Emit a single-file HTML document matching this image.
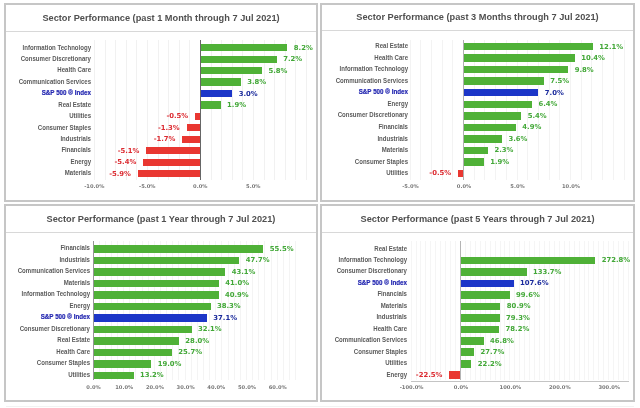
<!DOCTYPE html>
<html><head><meta charset="utf-8"><title>Sector Performance</title>
<style>
html,body{margin:0;padding:0;background:#fff;}
body{width:640px;height:408px;position:relative;overflow:hidden;font-family:"Liberation Sans",sans-serif;}
.p{position:absolute;border:2px solid #c6c6c6;box-sizing:border-box;background:#fff;}
.sep{position:absolute;height:1px;background:#d8d8d8;}
.t,.c,.v,.a,.b{filter:blur(0.35px);}
.t{position:absolute;font-weight:bold;font-size:9.6px;color:#505050;transform:scaleX(0.961);text-align:center;white-space:nowrap;line-height:12px;height:12px;}
.g{position:absolute;width:1px;background:#f3f3f3;}
.z{position:absolute;width:1px;background:#6e6e6e;}
.b{position:absolute;height:7.3px;}
.c{position:absolute;transform:scaleX(0.905);transform-origin:100% 50%;font-size:6.7px;font-weight:bold;color:#5a5a5a;text-align:right;white-space:nowrap;line-height:8px;height:8px;width:120px;}
.c.sp{color:#2226b0;transform:scaleX(0.935);-webkit-text-stroke:0.2px #2226b0;}
.v{position:absolute;font-family:"DejaVu Sans","Liberation Sans",sans-serif;font-weight:bold;font-size:6.85px;white-space:nowrap;line-height:8px;height:8px;}
.a{position:absolute;font-family:"DejaVu Sans","Liberation Sans",sans-serif;font-weight:bold;font-size:5.2px;color:#787878;white-space:nowrap;line-height:6px;height:6px;width:40px;text-align:center;}
</style></head><body>

<div class="p" style="left:4px;top:3px;width:314px;height:199px"></div>
<div class="sep" style="left:6px;top:30.5px;width:310px"></div>
<div class="t" style="left:4px;top:12px;width:314px">Sector Performance (past 1 Month through 7 Jul 2021)</div>
<div class="g" style="background:#f1f1f1;left:94.00px;top:40px;height:139.5px"></div>
<div class="g" style="background:#f1f1f1;left:104.60px;top:40px;height:139.5px"></div>
<div class="g" style="background:#f1f1f1;left:115.20px;top:40px;height:139.5px"></div>
<div class="g" style="background:#f1f1f1;left:125.80px;top:40px;height:139.5px"></div>
<div class="g" style="background:#f1f1f1;left:136.40px;top:40px;height:139.5px"></div>
<div class="g" style="background:#f1f1f1;left:147.00px;top:40px;height:139.5px"></div>
<div class="g" style="background:#f1f1f1;left:157.60px;top:40px;height:139.5px"></div>
<div class="g" style="background:#f1f1f1;left:168.20px;top:40px;height:139.5px"></div>
<div class="g" style="background:#f1f1f1;left:178.80px;top:40px;height:139.5px"></div>
<div class="g" style="background:#f1f1f1;left:189.40px;top:40px;height:139.5px"></div>
<div class="g" style="background:#f1f1f1;left:210.60px;top:40px;height:139.5px"></div>
<div class="g" style="background:#f1f1f1;left:221.20px;top:40px;height:139.5px"></div>
<div class="g" style="background:#f1f1f1;left:231.80px;top:40px;height:139.5px"></div>
<div class="g" style="background:#f1f1f1;left:242.40px;top:40px;height:139.5px"></div>
<div class="g" style="background:#f1f1f1;left:253.00px;top:40px;height:139.5px"></div>
<div class="g" style="background:#f1f1f1;left:263.60px;top:40px;height:139.5px"></div>
<div class="g" style="background:#f1f1f1;left:274.20px;top:40px;height:139.5px"></div>
<div class="g" style="background:#f1f1f1;left:284.80px;top:40px;height:139.5px"></div>
<div class="g" style="background:#f1f1f1;left:295.40px;top:40px;height:139.5px"></div>
<div class="g" style="background:#f1f1f1;left:306.00px;top:40px;height:139.5px"></div>
<div class="c" style="left:-29.00px;top:43.50px">Information Technology</div>
<div class="b" style="left:200.50px;top:44.20px;height:7.2px;width:86.92px;background:#4fb137"></div>
<div class="v" style="left:293.82px;top:43.80px;color:#43a838">8.2%</div>
<div class="c" style="left:-29.00px;top:54.93px">Consumer Discretionary</div>
<div class="b" style="left:200.50px;top:55.63px;height:7.2px;width:76.32px;background:#4fb137"></div>
<div class="v" style="left:283.22px;top:55.23px;color:#43a838">7.2%</div>
<div class="c" style="left:-29.00px;top:66.36px">Health Care</div>
<div class="b" style="left:200.50px;top:67.06px;height:7.2px;width:61.48px;background:#4fb137"></div>
<div class="v" style="left:268.38px;top:66.66px;color:#43a838">5.8%</div>
<div class="c" style="left:-29.00px;top:77.79px">Communication Services</div>
<div class="b" style="left:200.50px;top:78.49px;height:7.2px;width:40.28px;background:#4fb137"></div>
<div class="v" style="left:247.18px;top:78.09px;color:#43a838">3.8%</div>
<div class="c sp" style="left:-29.00px;top:89.22px">S&amp;P 500 ® Index</div>
<div class="b" style="left:200.50px;top:89.92px;height:7.2px;width:31.80px;background:#1c36c8"></div>
<div class="v" style="left:238.70px;top:89.52px;color:#1a2a9c">3.0%</div>
<div class="c" style="left:-29.00px;top:100.65px">Real Estate</div>
<div class="b" style="left:200.50px;top:101.35px;height:7.2px;width:20.14px;background:#4fb137"></div>
<div class="v" style="left:227.04px;top:100.95px;color:#43a838">1.9%</div>
<div class="c" style="left:-29.00px;top:112.08px">Utilities</div>
<div class="b" style="left:195.20px;top:112.78px;height:7.2px;width:5.30px;background:#e93731"></div>
<div class="v" style="right:451.80px;top:112.38px;color:#dc2c32">-0.5%</div>
<div class="c" style="left:-29.00px;top:123.51px">Consumer Staples</div>
<div class="b" style="left:186.72px;top:124.21px;height:7.2px;width:13.78px;background:#e93731"></div>
<div class="v" style="right:460.28px;top:123.81px;color:#dc2c32">-1.3%</div>
<div class="c" style="left:-29.00px;top:134.94px">Industrials</div>
<div class="b" style="left:182.48px;top:135.64px;height:7.2px;width:18.02px;background:#e93731"></div>
<div class="v" style="right:464.52px;top:135.24px;color:#dc2c32">-1.7%</div>
<div class="c" style="left:-29.00px;top:146.37px">Financials</div>
<div class="b" style="left:146.44px;top:147.07px;height:7.2px;width:54.06px;background:#e93731"></div>
<div class="v" style="right:500.56px;top:146.67px;color:#dc2c32">-5.1%</div>
<div class="c" style="left:-29.00px;top:157.80px">Energy</div>
<div class="b" style="left:143.26px;top:158.50px;height:7.2px;width:57.24px;background:#e93731"></div>
<div class="v" style="right:503.74px;top:158.10px;color:#dc2c32">-5.4%</div>
<div class="c" style="left:-29.00px;top:169.23px">Materials</div>
<div class="b" style="left:137.96px;top:169.93px;height:7.2px;width:62.54px;background:#e93731"></div>
<div class="v" style="right:509.04px;top:169.53px;color:#dc2c32">-5.9%</div>
<div class="z" style="background:#666;left:200.00px;top:40px;height:139.5px"></div>
<div class="a" style="left:74.30px;top:182.50px">-10.0%</div>
<div class="a" style="left:127.30px;top:182.50px">-5.0%</div>
<div class="a" style="left:180.30px;top:182.50px">0.0%</div>
<div class="a" style="left:233.30px;top:182.50px">5.0%</div>
<div class="p" style="left:320px;top:3px;width:315px;height:199px"></div>
<div class="sep" style="left:322px;top:30.0px;width:311px"></div>
<div class="t" style="left:320.3px;top:11.100000000000001px;width:315px">Sector Performance (past 3 Months through 7 Jul 2021)</div>
<div class="g" style="background:#f3f3f3;left:409.50px;top:40px;height:139.5px"></div>
<div class="g" style="background:#f3f3f3;left:420.20px;top:40px;height:139.5px"></div>
<div class="g" style="background:#f3f3f3;left:430.90px;top:40px;height:139.5px"></div>
<div class="g" style="background:#f3f3f3;left:441.60px;top:40px;height:139.5px"></div>
<div class="g" style="background:#f3f3f3;left:452.30px;top:40px;height:139.5px"></div>
<div class="g" style="background:#f3f3f3;left:473.70px;top:40px;height:139.5px"></div>
<div class="g" style="background:#f3f3f3;left:484.40px;top:40px;height:139.5px"></div>
<div class="g" style="background:#f3f3f3;left:495.10px;top:40px;height:139.5px"></div>
<div class="g" style="background:#f3f3f3;left:505.80px;top:40px;height:139.5px"></div>
<div class="g" style="background:#f3f3f3;left:516.50px;top:40px;height:139.5px"></div>
<div class="g" style="background:#f3f3f3;left:527.20px;top:40px;height:139.5px"></div>
<div class="g" style="background:#f3f3f3;left:537.90px;top:40px;height:139.5px"></div>
<div class="g" style="background:#f3f3f3;left:548.60px;top:40px;height:139.5px"></div>
<div class="g" style="background:#f3f3f3;left:559.30px;top:40px;height:139.5px"></div>
<div class="g" style="background:#f3f3f3;left:570.00px;top:40px;height:139.5px"></div>
<div class="g" style="background:#f3f3f3;left:580.70px;top:40px;height:139.5px"></div>
<div class="g" style="background:#f3f3f3;left:591.40px;top:40px;height:139.5px"></div>
<div class="g" style="background:#f3f3f3;left:602.10px;top:40px;height:139.5px"></div>
<div class="g" style="background:#f3f3f3;left:612.80px;top:40px;height:139.5px"></div>
<div class="g" style="background:#f3f3f3;left:623.50px;top:40px;height:139.5px"></div>
<div class="c" style="left:287.50px;top:42.30px">Real Estate</div>
<div class="b" style="left:463.50px;top:42.85px;height:7.5px;width:129.47px;background:#4fb137"></div>
<div class="v" style="left:599.37px;top:42.60px;color:#43a838">12.1%</div>
<div class="c" style="left:287.50px;top:53.83px">Health Care</div>
<div class="b" style="left:463.50px;top:54.38px;height:7.5px;width:111.28px;background:#4fb137"></div>
<div class="v" style="left:581.18px;top:54.13px;color:#43a838">10.4%</div>
<div class="c" style="left:287.50px;top:65.36px">Information Technology</div>
<div class="b" style="left:463.50px;top:65.91px;height:7.5px;width:104.86px;background:#4fb137"></div>
<div class="v" style="left:574.76px;top:65.66px;color:#43a838">9.8%</div>
<div class="c" style="left:287.50px;top:76.89px">Communication Services</div>
<div class="b" style="left:463.50px;top:77.44px;height:7.5px;width:80.25px;background:#4fb137"></div>
<div class="v" style="left:550.15px;top:77.19px;color:#43a838">7.5%</div>
<div class="c sp" style="left:287.50px;top:88.42px">S&amp;P 500 ® Index</div>
<div class="b" style="left:463.50px;top:88.97px;height:7.5px;width:74.90px;background:#1c36c8"></div>
<div class="v" style="left:544.80px;top:88.72px;color:#1a2a9c">7.0%</div>
<div class="c" style="left:287.50px;top:99.95px">Energy</div>
<div class="b" style="left:463.50px;top:100.50px;height:7.5px;width:68.48px;background:#4fb137"></div>
<div class="v" style="left:538.38px;top:100.25px;color:#43a838">6.4%</div>
<div class="c" style="left:287.50px;top:111.48px">Consumer Discretionary</div>
<div class="b" style="left:463.50px;top:112.03px;height:7.5px;width:57.78px;background:#4fb137"></div>
<div class="v" style="left:527.68px;top:111.78px;color:#43a838">5.4%</div>
<div class="c" style="left:287.50px;top:123.01px">Financials</div>
<div class="b" style="left:463.50px;top:123.56px;height:7.5px;width:52.43px;background:#4fb137"></div>
<div class="v" style="left:522.33px;top:123.31px;color:#43a838">4.9%</div>
<div class="c" style="left:287.50px;top:134.54px">Industrials</div>
<div class="b" style="left:463.50px;top:135.09px;height:7.5px;width:38.52px;background:#4fb137"></div>
<div class="v" style="left:508.42px;top:134.84px;color:#43a838">3.6%</div>
<div class="c" style="left:287.50px;top:146.07px">Materials</div>
<div class="b" style="left:463.50px;top:146.62px;height:7.5px;width:24.61px;background:#4fb137"></div>
<div class="v" style="left:494.51px;top:146.37px;color:#43a838">2.3%</div>
<div class="c" style="left:287.50px;top:157.60px">Consumer Staples</div>
<div class="b" style="left:463.50px;top:158.15px;height:7.5px;width:20.33px;background:#4fb137"></div>
<div class="v" style="left:490.23px;top:157.90px;color:#43a838">1.9%</div>
<div class="c" style="left:287.50px;top:169.13px">Utilities</div>
<div class="b" style="left:458.15px;top:169.68px;height:7.5px;width:5.35px;background:#e93731"></div>
<div class="v" style="right:188.85px;top:169.43px;color:#dc2c32">-0.5%</div>
<div class="z" style="background:#b0b0b0;left:463.00px;top:40px;height:139.5px"></div>
<div class="a" style="left:390.50px;top:182.50px">-5.0%</div>
<div class="a" style="left:444.00px;top:182.50px">0.0%</div>
<div class="a" style="left:497.50px;top:182.50px">5.0%</div>
<div class="a" style="left:551.00px;top:182.50px">10.0%</div>
<div class="p" style="left:4px;top:204px;width:314px;height:198px"></div>
<div class="sep" style="left:6px;top:231.5px;width:310px"></div>
<div class="t" style="left:4px;top:213px;width:314px">Sector Performance (past 1 Year through 7 Jul 2021)</div>
<div class="g" style="background:#f4f4f4;left:98.64px;top:241px;height:139px"></div>
<div class="g" style="background:#f4f4f4;left:104.78px;top:241px;height:139px"></div>
<div class="g" style="background:#f4f4f4;left:110.92px;top:241px;height:139px"></div>
<div class="g" style="background:#f4f4f4;left:117.06px;top:241px;height:139px"></div>
<div class="g" style="background:#f4f4f4;left:123.20px;top:241px;height:139px"></div>
<div class="g" style="background:#f4f4f4;left:129.34px;top:241px;height:139px"></div>
<div class="g" style="background:#f4f4f4;left:135.48px;top:241px;height:139px"></div>
<div class="g" style="background:#f4f4f4;left:141.62px;top:241px;height:139px"></div>
<div class="g" style="background:#f4f4f4;left:147.76px;top:241px;height:139px"></div>
<div class="g" style="background:#f4f4f4;left:153.90px;top:241px;height:139px"></div>
<div class="g" style="background:#f4f4f4;left:160.04px;top:241px;height:139px"></div>
<div class="g" style="background:#f4f4f4;left:166.18px;top:241px;height:139px"></div>
<div class="g" style="background:#f4f4f4;left:172.32px;top:241px;height:139px"></div>
<div class="g" style="background:#f4f4f4;left:178.46px;top:241px;height:139px"></div>
<div class="g" style="background:#f4f4f4;left:184.60px;top:241px;height:139px"></div>
<div class="g" style="background:#f4f4f4;left:190.74px;top:241px;height:139px"></div>
<div class="g" style="background:#f4f4f4;left:196.88px;top:241px;height:139px"></div>
<div class="g" style="background:#f4f4f4;left:203.02px;top:241px;height:139px"></div>
<div class="g" style="background:#f4f4f4;left:209.16px;top:241px;height:139px"></div>
<div class="g" style="background:#f4f4f4;left:215.30px;top:241px;height:139px"></div>
<div class="g" style="background:#f4f4f4;left:221.44px;top:241px;height:139px"></div>
<div class="g" style="background:#f4f4f4;left:227.58px;top:241px;height:139px"></div>
<div class="g" style="background:#f4f4f4;left:233.72px;top:241px;height:139px"></div>
<div class="g" style="background:#f4f4f4;left:239.86px;top:241px;height:139px"></div>
<div class="g" style="background:#f4f4f4;left:246.00px;top:241px;height:139px"></div>
<div class="g" style="background:#f4f4f4;left:252.14px;top:241px;height:139px"></div>
<div class="g" style="background:#f4f4f4;left:258.28px;top:241px;height:139px"></div>
<div class="g" style="background:#f4f4f4;left:264.42px;top:241px;height:139px"></div>
<div class="g" style="background:#f4f4f4;left:270.56px;top:241px;height:139px"></div>
<div class="g" style="background:#f4f4f4;left:276.70px;top:241px;height:139px"></div>
<div class="g" style="background:#f4f4f4;left:282.84px;top:241px;height:139px"></div>
<div class="g" style="background:#f4f4f4;left:288.98px;top:241px;height:139px"></div>
<div class="g" style="background:#f4f4f4;left:295.12px;top:241px;height:139px"></div>
<div class="c" style="left:-29.90px;top:244.20px">Financials</div>
<div class="b" style="left:93.00px;top:245.10px;height:7.6px;width:170.38px;background:#4fb137"></div>
<div class="v" style="left:269.78px;top:244.50px;color:#43a838">55.5%</div>
<div class="c" style="left:-29.90px;top:255.70px">Industrials</div>
<div class="b" style="left:93.00px;top:256.60px;height:7.6px;width:146.44px;background:#4fb137"></div>
<div class="v" style="left:245.84px;top:256.00px;color:#43a838">47.7%</div>
<div class="c" style="left:-29.90px;top:267.20px">Communication Services</div>
<div class="b" style="left:93.00px;top:268.10px;height:7.6px;width:132.32px;background:#4fb137"></div>
<div class="v" style="left:231.72px;top:267.50px;color:#43a838">43.1%</div>
<div class="c" style="left:-29.90px;top:278.70px">Materials</div>
<div class="b" style="left:93.00px;top:279.60px;height:7.6px;width:125.87px;background:#4fb137"></div>
<div class="v" style="left:225.27px;top:279.00px;color:#43a838">41.0%</div>
<div class="c" style="left:-29.90px;top:290.20px">Information Technology</div>
<div class="b" style="left:93.00px;top:291.10px;height:7.6px;width:125.56px;background:#4fb137"></div>
<div class="v" style="left:224.96px;top:290.50px;color:#43a838">40.9%</div>
<div class="c" style="left:-29.90px;top:301.70px">Energy</div>
<div class="b" style="left:93.00px;top:302.60px;height:7.6px;width:117.58px;background:#4fb137"></div>
<div class="v" style="left:216.98px;top:302.00px;color:#43a838">38.3%</div>
<div class="c sp" style="left:-29.90px;top:313.20px">S&amp;P 500 ® Index</div>
<div class="b" style="left:93.00px;top:314.10px;height:7.6px;width:113.90px;background:#1c36c8"></div>
<div class="v" style="left:213.30px;top:313.50px;color:#1a2a9c">37.1%</div>
<div class="c" style="left:-29.90px;top:324.70px">Consumer Discretionary</div>
<div class="b" style="left:93.00px;top:325.60px;height:7.6px;width:98.55px;background:#4fb137"></div>
<div class="v" style="left:197.95px;top:325.00px;color:#43a838">32.1%</div>
<div class="c" style="left:-29.90px;top:336.20px">Real Estate</div>
<div class="b" style="left:93.00px;top:337.10px;height:7.6px;width:85.96px;background:#4fb137"></div>
<div class="v" style="left:185.36px;top:336.50px;color:#43a838">28.0%</div>
<div class="c" style="left:-29.90px;top:347.70px">Health Care</div>
<div class="b" style="left:93.00px;top:348.60px;height:7.6px;width:78.90px;background:#4fb137"></div>
<div class="v" style="left:178.30px;top:348.00px;color:#43a838">25.7%</div>
<div class="c" style="left:-29.90px;top:359.20px">Consumer Staples</div>
<div class="b" style="left:93.00px;top:360.10px;height:7.6px;width:58.33px;background:#4fb137"></div>
<div class="v" style="left:157.73px;top:359.50px;color:#43a838">19.0%</div>
<div class="c" style="left:-29.90px;top:370.70px">Utilities</div>
<div class="b" style="left:93.00px;top:371.60px;height:7.6px;width:40.52px;background:#4fb137"></div>
<div class="v" style="left:139.92px;top:371.00px;color:#43a838">13.2%</div>
<div class="z" style="background:#959595;left:92.50px;top:241px;height:139px"></div>
<div class="a" style="left:73.50px;top:384.20px">0.0%</div>
<div class="a" style="left:104.20px;top:384.20px">10.0%</div>
<div class="a" style="left:134.90px;top:384.20px">20.0%</div>
<div class="a" style="left:165.60px;top:384.20px">30.0%</div>
<div class="a" style="left:196.30px;top:384.20px">40.0%</div>
<div class="a" style="left:227.00px;top:384.20px">50.0%</div>
<div class="a" style="left:257.70px;top:384.20px">60.0%</div>
<div class="p" style="left:320px;top:204px;width:315px;height:198px"></div>
<div class="sep" style="left:322px;top:231.5px;width:311px"></div>
<div class="t" style="left:319.9px;top:213px;width:315px">Sector Performance (past 5 Years through 7 Jul 2021)</div>
<div class="g" style="background:#f5f5f5;left:410.60px;top:241px;height:139px"></div>
<div class="g" style="background:#f5f5f5;left:415.54px;top:241px;height:139px"></div>
<div class="g" style="background:#f5f5f5;left:420.48px;top:241px;height:139px"></div>
<div class="g" style="background:#f5f5f5;left:425.42px;top:241px;height:139px"></div>
<div class="g" style="background:#f5f5f5;left:430.36px;top:241px;height:139px"></div>
<div class="g" style="background:#f5f5f5;left:435.30px;top:241px;height:139px"></div>
<div class="g" style="background:#f5f5f5;left:440.24px;top:241px;height:139px"></div>
<div class="g" style="background:#f5f5f5;left:445.18px;top:241px;height:139px"></div>
<div class="g" style="background:#f5f5f5;left:450.12px;top:241px;height:139px"></div>
<div class="g" style="background:#f5f5f5;left:455.06px;top:241px;height:139px"></div>
<div class="g" style="background:#f5f5f5;left:464.94px;top:241px;height:139px"></div>
<div class="g" style="background:#f5f5f5;left:469.88px;top:241px;height:139px"></div>
<div class="g" style="background:#f5f5f5;left:474.82px;top:241px;height:139px"></div>
<div class="g" style="background:#f5f5f5;left:479.76px;top:241px;height:139px"></div>
<div class="g" style="background:#f5f5f5;left:484.70px;top:241px;height:139px"></div>
<div class="g" style="background:#f5f5f5;left:489.64px;top:241px;height:139px"></div>
<div class="g" style="background:#f5f5f5;left:494.58px;top:241px;height:139px"></div>
<div class="g" style="background:#f5f5f5;left:499.52px;top:241px;height:139px"></div>
<div class="g" style="background:#f5f5f5;left:504.46px;top:241px;height:139px"></div>
<div class="g" style="background:#f5f5f5;left:509.40px;top:241px;height:139px"></div>
<div class="g" style="background:#f5f5f5;left:514.34px;top:241px;height:139px"></div>
<div class="g" style="background:#f5f5f5;left:519.28px;top:241px;height:139px"></div>
<div class="g" style="background:#f5f5f5;left:524.22px;top:241px;height:139px"></div>
<div class="g" style="background:#f5f5f5;left:529.16px;top:241px;height:139px"></div>
<div class="g" style="background:#f5f5f5;left:534.10px;top:241px;height:139px"></div>
<div class="g" style="background:#f5f5f5;left:539.04px;top:241px;height:139px"></div>
<div class="g" style="background:#f5f5f5;left:543.98px;top:241px;height:139px"></div>
<div class="g" style="background:#f5f5f5;left:548.92px;top:241px;height:139px"></div>
<div class="g" style="background:#f5f5f5;left:553.86px;top:241px;height:139px"></div>
<div class="g" style="background:#f5f5f5;left:558.80px;top:241px;height:139px"></div>
<div class="g" style="background:#f5f5f5;left:563.74px;top:241px;height:139px"></div>
<div class="g" style="background:#f5f5f5;left:568.68px;top:241px;height:139px"></div>
<div class="g" style="background:#f5f5f5;left:573.62px;top:241px;height:139px"></div>
<div class="g" style="background:#f5f5f5;left:578.56px;top:241px;height:139px"></div>
<div class="g" style="background:#f5f5f5;left:583.50px;top:241px;height:139px"></div>
<div class="g" style="background:#f5f5f5;left:588.44px;top:241px;height:139px"></div>
<div class="g" style="background:#f5f5f5;left:593.38px;top:241px;height:139px"></div>
<div class="g" style="background:#f5f5f5;left:598.32px;top:241px;height:139px"></div>
<div class="g" style="background:#f5f5f5;left:603.26px;top:241px;height:139px"></div>
<div class="g" style="background:#f5f5f5;left:608.20px;top:241px;height:139px"></div>
<div class="g" style="background:#f5f5f5;left:613.14px;top:241px;height:139px"></div>
<div class="g" style="background:#f5f5f5;left:618.08px;top:241px;height:139px"></div>
<div class="g" style="background:#f5f5f5;left:623.02px;top:241px;height:139px"></div>
<div class="g" style="background:#f5f5f5;left:627.96px;top:241px;height:139px"></div>
<div class="c" style="left:287.00px;top:244.50px">Real Estate</div>
<div class="c" style="left:287.00px;top:255.97px">Information Technology</div>
<div class="b" style="left:460.50px;top:256.72px;height:7.7px;width:134.76px;background:#4fb137"></div>
<div class="v" style="left:601.66px;top:256.27px;color:#43a838">272.8%</div>
<div class="c" style="left:287.00px;top:267.44px">Consumer Discretionary</div>
<div class="b" style="left:460.50px;top:268.19px;height:7.7px;width:66.05px;background:#4fb137"></div>
<div class="v" style="left:532.95px;top:267.74px;color:#43a838">133.7%</div>
<div class="c sp" style="left:287.00px;top:278.91px">S&amp;P 500 ® Index</div>
<div class="b" style="left:460.50px;top:279.66px;height:7.7px;width:53.15px;background:#1c36c8"></div>
<div class="v" style="left:520.05px;top:279.21px;color:#1a2a9c">107.6%</div>
<div class="c" style="left:287.00px;top:290.38px">Financials</div>
<div class="b" style="left:460.50px;top:291.13px;height:7.7px;width:49.20px;background:#4fb137"></div>
<div class="v" style="left:516.10px;top:290.68px;color:#43a838">99.6%</div>
<div class="c" style="left:287.00px;top:301.85px">Materials</div>
<div class="b" style="left:460.50px;top:302.60px;height:7.7px;width:39.96px;background:#4fb137"></div>
<div class="v" style="left:506.86px;top:302.15px;color:#43a838">80.9%</div>
<div class="c" style="left:287.00px;top:313.32px">Industrials</div>
<div class="b" style="left:460.50px;top:314.07px;height:7.7px;width:39.17px;background:#4fb137"></div>
<div class="v" style="left:506.07px;top:313.62px;color:#43a838">79.3%</div>
<div class="c" style="left:287.00px;top:324.79px">Health Care</div>
<div class="b" style="left:460.50px;top:325.54px;height:7.7px;width:38.63px;background:#4fb137"></div>
<div class="v" style="left:505.53px;top:325.09px;color:#43a838">78.2%</div>
<div class="c" style="left:287.00px;top:336.26px">Communication Services</div>
<div class="b" style="left:460.50px;top:337.01px;height:7.7px;width:23.12px;background:#4fb137"></div>
<div class="v" style="left:490.02px;top:336.56px;color:#43a838">46.8%</div>
<div class="c" style="left:287.00px;top:347.73px">Consumer Staples</div>
<div class="b" style="left:460.50px;top:348.48px;height:7.7px;width:13.68px;background:#4fb137"></div>
<div class="v" style="left:480.58px;top:348.03px;color:#43a838">27.7%</div>
<div class="c" style="left:287.00px;top:359.20px">Utilities</div>
<div class="b" style="left:460.50px;top:359.95px;height:7.7px;width:10.97px;background:#4fb137"></div>
<div class="v" style="left:477.87px;top:359.50px;color:#43a838">22.2%</div>
<div class="c" style="left:287.00px;top:370.67px">Energy</div>
<div class="b" style="left:449.38px;top:371.42px;height:7.7px;width:11.12px;background:#e93731"></div>
<div class="v" style="right:197.62px;top:370.97px;color:#dc2c32">-22.5%</div>
<div class="z" style="background:#b4b4b4;left:460.00px;top:241px;height:139px"></div>
<div class="sep" style="left:411.10px;top:381.0px;width:217.90px;background:#c4c4c4"></div>
<div class="a" style="left:391.60px;top:384.20px">-100.0%</div>
<div class="a" style="left:441.00px;top:384.20px">0.0%</div>
<div class="a" style="left:490.40px;top:384.20px">100.0%</div>
<div class="a" style="left:539.80px;top:384.20px">200.0%</div>
<div class="a" style="left:589.20px;top:384.20px">300.0%</div>
<div class="sep" style="left:6px;top:406px;width:628px;background:#f2f2f2"></div>
</body></html>
